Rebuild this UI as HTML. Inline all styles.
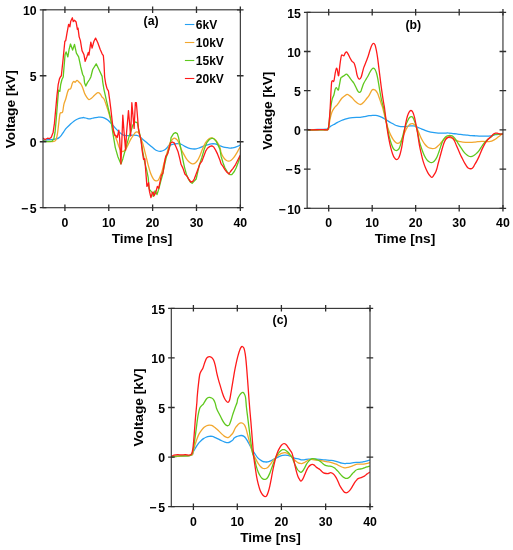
<!DOCTYPE html>
<html><head><meta charset="utf-8"><title>Voltage waveforms</title>
<style>html,body{margin:0;padding:0;background:#fff}body{width:513px;height:550px;overflow:hidden}</style></head>
<body>
<svg width="513" height="550" viewBox="0 0 513 550" style="display:block">
<rect width="513" height="550" fill="#fff"/>
<clipPath id="ca"><rect x="43.0" y="9.8" width="197.35" height="197.89999999999998"/></clipPath>
<g clip-path="url(#ca)" fill="none" stroke-width="1.3" stroke-linejoin="round" stroke-linecap="round">
<path d="M43.14,140.36 C43.87,140.26 45.96,139.90 47.53,139.74 C49.10,139.57 51.08,139.51 52.55,139.36 C54.01,139.21 55.27,139.11 56.31,138.86 C57.36,138.61 57.98,138.44 58.82,137.85 C59.66,137.27 60.49,136.39 61.33,135.34 C62.17,134.30 63.00,132.77 63.84,131.58 C64.68,130.39 65.30,129.38 66.35,128.19 C67.39,127.00 68.86,125.60 70.11,124.43 C71.37,123.26 72.62,122.06 73.88,121.17 C75.13,120.27 76.39,119.58 77.64,119.03 C78.90,118.49 80.36,118.15 81.41,117.90 C82.45,117.65 82.97,117.44 83.91,117.53 C84.86,117.61 86.01,118.20 87.05,118.41 C88.10,118.61 89.04,118.89 90.19,118.78 C91.34,118.68 92.70,118.03 93.95,117.78 C95.21,117.53 96.67,117.38 97.72,117.28 C98.76,117.17 99.18,117.05 100.23,117.15 C101.27,117.26 102.73,117.43 103.99,117.90 C105.25,118.38 106.51,119.02 107.76,120.00 C109.02,120.98 110.27,122.40 111.53,123.76 C112.78,125.12 114.04,126.80 115.29,128.16 C116.55,129.51 117.80,130.81 119.06,131.92 C120.31,133.03 121.67,134.18 122.82,134.81 C123.97,135.43 124.91,135.56 125.96,135.68 C127.00,135.81 127.94,135.66 129.09,135.56 C130.24,135.45 131.60,135.10 132.86,135.06 C134.11,135.01 135.58,135.10 136.62,135.31 C137.67,135.52 138.09,135.62 139.13,136.31 C140.18,137.00 141.64,138.40 142.90,139.45 C144.15,140.49 145.41,141.54 146.66,142.58 C147.91,143.63 149.17,144.68 150.42,145.72 C151.68,146.77 153.04,148.02 154.19,148.86 C155.34,149.69 156.23,150.34 157.32,150.74 C158.42,151.14 159.65,151.35 160.74,151.27 C161.83,151.20 162.94,150.73 163.88,150.27 C164.82,149.81 165.55,149.29 166.39,148.51 C167.22,147.74 168.12,146.23 168.90,145.63 C169.67,145.02 170.07,145.17 171.06,144.88 C172.04,144.59 173.57,144.09 174.82,143.88 C176.08,143.67 177.43,143.52 178.58,143.63 C179.73,143.73 180.68,144.04 181.72,144.50 C182.77,144.96 183.71,145.80 184.86,146.39 C186.01,146.97 187.37,147.60 188.62,148.02 C189.88,148.44 191.13,148.75 192.39,148.90 C193.64,149.04 194.90,149.10 196.15,148.90 C197.41,148.69 198.66,148.10 199.91,147.64 C201.17,147.18 202.42,146.60 203.68,146.14 C204.93,145.68 206.19,145.26 207.44,144.88 C208.70,144.50 209.95,144.04 211.21,143.88 C212.46,143.71 213.82,143.71 214.97,143.88 C216.12,144.04 217.27,144.57 218.11,144.88 C218.94,145.19 219.07,145.40 219.99,145.76 C220.91,146.11 222.41,146.70 223.64,147.01 C224.88,147.33 226.15,147.47 227.41,147.64 C228.66,147.81 229.91,148.08 231.17,148.02 C232.42,147.95 233.78,147.58 234.93,147.26 C236.08,146.95 237.19,146.49 238.07,146.14 C238.95,145.78 239.85,145.30 240.20,145.13" stroke="#26a0f2"/>
<path d="M43.14,141.24 C44.71,141.30 50.46,141.76 52.55,141.62 C54.64,141.47 54.89,141.51 55.68,140.36 C56.48,139.21 56.83,137.33 57.31,134.72 C57.80,132.10 58.15,128.02 58.57,124.68 C58.99,121.33 59.47,116.63 59.82,114.64 C60.18,112.65 60.24,113.18 60.70,112.76 C61.16,112.34 62.06,113.49 62.58,112.13 C63.11,110.77 63.32,106.80 63.84,104.60 C64.36,102.41 65.09,101.05 65.72,98.96 C66.35,96.87 67.08,93.67 67.60,92.06 C68.13,90.45 68.34,89.88 68.86,89.30 C69.38,88.71 70.15,89.55 70.74,88.54 C71.33,87.54 71.85,84.47 72.37,83.27 C72.89,82.08 73.42,81.56 73.88,81.39 C74.34,81.22 74.61,82.44 75.13,82.27 C75.65,82.10 76.39,80.43 77.01,80.39 C77.64,80.35 78.27,81.43 78.90,82.02 C79.52,82.60 80.15,82.96 80.78,83.90 C81.41,84.84 82.03,86.10 82.66,87.66 C83.29,89.23 83.87,91.74 84.54,93.31 C85.21,94.88 85.94,96.03 86.68,97.08 C87.41,98.12 88.14,99.38 88.93,99.58 C89.73,99.79 90.61,98.96 91.44,98.33 C92.28,97.70 93.22,96.55 93.95,95.82 C94.68,95.09 95.17,94.46 95.83,93.94 C96.50,93.42 97.24,92.68 97.97,92.68 C98.70,92.68 99.54,93.21 100.23,93.94 C100.92,94.67 101.48,96.24 102.11,97.08 C102.74,97.91 103.36,97.81 103.99,98.96 C104.62,100.11 105.25,102.20 105.88,103.98 C106.51,105.75 107.14,107.64 107.76,109.62 C108.39,111.61 109.02,113.70 109.65,115.90 C110.27,118.09 110.90,120.54 111.53,122.80 C112.16,125.05 112.78,127.16 113.41,129.41 C114.04,131.66 114.66,134.32 115.29,136.31 C115.92,138.30 116.55,139.55 117.17,141.33 C117.80,143.11 118.43,145.41 119.06,146.98 C119.68,148.54 120.21,150.01 120.94,150.74 C121.67,151.47 122.61,151.68 123.45,151.37 C124.28,151.05 125.12,150.11 125.96,148.86 C126.79,147.60 127.63,145.51 128.47,143.84 C129.30,142.17 130.14,140.28 130.98,138.82 C131.81,137.36 132.75,136.10 133.49,135.06 C134.22,134.01 134.74,133.07 135.37,132.55 C135.99,132.02 136.62,131.71 137.25,131.92 C137.88,132.13 138.50,132.65 139.13,133.80 C139.76,134.95 140.39,137.15 141.01,138.82 C141.64,140.49 142.27,141.75 142.90,143.84 C143.52,145.93 144.15,148.86 144.78,151.37 C145.41,153.88 146.03,156.39 146.66,158.90 C147.29,161.41 147.91,164.12 148.54,166.42 C149.17,168.72 149.80,170.92 150.42,172.70 C151.05,174.48 151.68,175.88 152.31,177.09 C152.93,178.30 153.56,179.35 154.19,179.97 C154.82,180.60 155.40,180.83 156.07,180.85 C156.74,180.88 157.56,180.88 158.23,180.13 C158.90,179.38 159.49,177.83 160.11,176.37 C160.74,174.90 161.37,173.44 161.99,171.35 C162.62,169.26 163.25,166.23 163.88,163.82 C164.50,161.42 165.13,159.12 165.76,156.92 C166.39,154.72 166.97,152.92 167.64,150.65 C168.31,148.37 169.02,145.11 169.80,143.25 C170.58,141.39 171.47,140.32 172.31,139.49 C173.15,138.65 173.98,138.13 174.82,138.23 C175.66,138.34 176.60,139.17 177.33,140.11 C178.06,141.05 178.58,142.41 179.21,143.88 C179.84,145.34 180.36,147.22 181.09,148.90 C181.83,150.57 182.77,152.35 183.60,153.91 C184.44,155.48 185.28,157.05 186.11,158.31 C186.95,159.56 187.79,160.61 188.62,161.44 C189.46,162.28 190.40,162.91 191.13,163.32 C191.86,163.74 192.28,164.06 193.01,163.95 C193.75,163.85 194.69,163.43 195.52,162.70 C196.36,161.97 197.30,160.71 198.03,159.56 C198.76,158.41 199.29,157.26 199.91,155.80 C200.54,154.33 201.17,152.35 201.80,150.78 C202.42,149.21 203.05,147.75 203.68,146.39 C204.31,145.03 204.93,143.67 205.56,142.62 C206.19,141.58 206.71,140.84 207.44,140.11 C208.17,139.38 209.22,138.61 209.95,138.23 C210.68,137.85 211.00,137.65 211.83,137.85 C212.67,138.06 214.03,138.69 214.97,139.49 C215.91,140.28 216.64,141.26 217.48,142.62 C218.32,143.98 219.38,145.97 219.99,147.64 C220.60,149.31 220.52,150.99 221.13,152.66 C221.74,154.33 222.80,156.42 223.64,157.68 C224.48,158.93 225.31,159.60 226.15,160.19 C226.99,160.77 227.82,161.19 228.66,161.19 C229.50,161.19 230.33,160.77 231.17,160.19 C232.01,159.60 232.84,158.72 233.68,157.68 C234.52,156.63 235.35,155.27 236.19,153.91 C237.02,152.56 238.03,150.67 238.70,149.52 C239.37,148.37 239.95,147.43 240.20,147.01" stroke="#f2a72e"/>
<path d="M43.14,140.99 L47.53,141.62 L51.92,141.24 L53.80,139.11 L55.06,132.21 L56.31,118.41 L57.57,102.09 L58.57,90.17 L59.82,91.43 L60.70,84.53 L61.96,79.51 L63.21,77.00 L65.09,54.42 L66.10,51.91 L67.85,56.93 L69.11,49.41 L70.49,44.01 L72.62,50.03 L74.50,44.39 L76.39,53.17 L78.64,56.93 L80.78,66.97 L82.66,74.50 L83.91,76.76 L84.54,82.65 L85.80,86.03 L87.43,82.65 L89.56,79.51 L90.82,77.00 L92.70,69.48 L96.21,63.83 L98.97,69.48 L102.11,76.38 L102.74,82.02 L104.00,89.55 L106.51,100.84 L109.02,111.50 L110.90,120.04 L112.78,132.55 L115.29,147.60 L117.80,156.39 L120.94,163.91 L122.82,158.90 L125.96,147.60 L129.09,136.31 L130.98,131.29 L132.86,125.02 L134.74,121.88 L137.25,122.51 L139.13,131.29 L141.01,140.08 L142.90,152.62 L144.78,162.66 L146.66,170.19 L148.19,177.62 L149.07,188.91 L150.70,190.80 L152.33,192.68 L153.21,196.44 L155.09,190.80 L156.98,194.56 L158.86,188.91 L160.74,181.39 L162.62,174.49 L164.50,165.08 L166.39,156.92 L168.27,151.27 L170.15,145.00 L171.06,137.60 L173.57,133.59 L175.45,132.58 L177.33,133.59 L178.58,137.60 L179.84,143.88 L181.44,151.27 L182.70,158.80 L184.58,167.58 L186.46,174.49 L188.34,178.88 L190.23,182.01 L192.11,183.27 L193.99,181.39 L196.15,179.01 L199.29,165.21 L201.80,157.68 L204.31,148.90 L206.82,142.62 L209.32,139.49 L211.83,138.23 L213.72,138.61 L216.23,141.37 L218.11,145.13 L219.99,149.52 L221.13,156.42 L223.01,162.70 L224.90,167.72 L227.41,172.11 L229.91,174.62 L231.80,174.62 L234.31,171.48 L236.19,167.72 L238.07,162.70 L240.20,156.42" stroke="#5fc81e"/>
<path d="M43.14,138.23 L45.02,139.48 L47.53,138.23 L49.41,138.73 L51.29,137.23 L53.17,132.21 L54.43,123.42 L55.68,109.62 L56.94,95.82 L58.19,84.53 L59.45,78.88 L60.33,77.00 L61.33,75.75 L63.21,58.19 L64.84,41.25 L65.72,40.62 L66.98,33.09 L68.61,24.31 L69.86,26.82 L70.74,21.17 L72.37,17.79 L73.25,21.55 L74.50,20.30 L76.14,22.05 L77.39,29.33 L78.02,28.08 L79.15,36.86 L80.40,40.62 L82.03,50.66 L83.91,54.42 L85.17,61.32 L87.05,56.31 L88.31,52.54 L88.93,55.05 L90.82,42.13 L92.07,48.15 L93.95,41.25 L95.58,38.11 L97.72,42.50 L100.23,49.41 L102.11,53.80 L103.36,55.68 L103.99,63.21 L104.63,77.00 L105.88,84.53 L107.14,88.92 L108.39,90.80 L109.65,99.58 L110.90,109.62 L112.16,120.91 L113.41,130.95 L114.66,135.06 L115.92,135.68 L117.17,137.57 L118.81,130.04 L119.68,138.82 L120.94,163.91 L121.94,138.82 L122.82,115.23 L124.08,132.55 L125.58,150.11 L126.58,132.55 L128.47,110.59 L129.72,125.02 L130.60,135.93 L131.85,102.72 L133.11,117.15 L134.11,128.44 L135.37,102.72 L136.37,102.72 L137.63,118.41 L138.50,129.70 L139.76,135.06 L141.01,140.08 L142.27,151.37 L143.55,159.43 L144.81,158.80 L145.68,170.09 L146.94,186.41 L148.57,182.64 L149.45,191.42 L150.95,197.70 L152.33,192.68 L153.21,192.05 L154.09,195.82 L155.72,192.68 L157.35,186.41 L158.61,188.29 L160.11,181.39 L161.37,175.11 L162.87,173.23 L164.50,162.57 L165.76,156.29 L167.64,153.78 L169.52,146.88 L170.43,143.25 L172.31,141.99 L174.19,142.87 L176.08,147.01 L177.96,151.41 L179.84,158.93 L181.09,164.58 L182.98,168.34 L184.86,173.99 L187.09,176.37 L188.97,179.50 L190.85,182.01 L192.74,181.39 L194.27,179.01 L196.15,173.99 L198.03,168.97 L199.91,163.95 L201.80,161.44 L203.68,156.42 L205.56,151.41 L207.44,148.27 L209.95,146.39 L211.83,145.76 L213.72,147.01 L215.60,150.15 L217.48,153.91 L219.99,160.19 L221.13,163.95 L223.01,166.46 L224.90,169.60 L226.78,172.11 L228.91,173.99 L230.54,171.48 L233.05,168.34 L235.56,164.58 L238.07,159.56 L240.20,155.17" stroke="#ff1a1a"/>
</g>
<rect x="43.0" y="9.8" width="197.35" height="197.89999999999998" fill="none" stroke="#363636" stroke-width="1.15"/>
<path d="M64.92,211.0 V204.5 M64.92,6.500000000000001 V13.0" stroke="#2e2e2e" stroke-width="1.3" fill="none"/>
<path d="M108.78,211.0 V204.5 M108.78,6.500000000000001 V13.0" stroke="#2e2e2e" stroke-width="1.3" fill="none"/>
<path d="M152.63,211.0 V204.5 M152.63,6.500000000000001 V13.0" stroke="#2e2e2e" stroke-width="1.3" fill="none"/>
<path d="M196.49,211.0 V204.5 M196.49,6.500000000000001 V13.0" stroke="#2e2e2e" stroke-width="1.3" fill="none"/>
<path d="M240.34,211.0 V204.5 M240.34,6.500000000000001 V13.0" stroke="#2e2e2e" stroke-width="1.3" fill="none"/>
<path d="M39.8,9.80 H46.4 M243.54999999999998,9.80 H236.95" stroke="#2e2e2e" stroke-width="1.3" fill="none"/>
<path d="M39.8,75.76 H46.4 M243.54999999999998,75.76 H236.95" stroke="#2e2e2e" stroke-width="1.3" fill="none"/>
<path d="M39.8,141.73 H46.4 M243.54999999999998,141.73 H236.95" stroke="#2e2e2e" stroke-width="1.3" fill="none"/>
<path d="M39.8,207.69 H46.4 M243.54999999999998,207.69 H236.95" stroke="#2e2e2e" stroke-width="1.3" fill="none"/>
<text x="64.92" y="226.7" font-size="12.3" text-anchor="middle" font-family="'Liberation Sans', sans-serif" font-weight="bold" fill="#000" >0</text>
<text x="108.77600000000001" y="226.7" font-size="12.3" text-anchor="middle" font-family="'Liberation Sans', sans-serif" font-weight="bold" fill="#000" >10</text>
<text x="152.632" y="226.7" font-size="12.3" text-anchor="middle" font-family="'Liberation Sans', sans-serif" font-weight="bold" fill="#000" >20</text>
<text x="196.488" y="226.7" font-size="12.3" text-anchor="middle" font-family="'Liberation Sans', sans-serif" font-weight="bold" fill="#000" >30</text>
<text x="240.344" y="226.7" font-size="12.3" text-anchor="middle" font-family="'Liberation Sans', sans-serif" font-weight="bold" fill="#000" >40</text>
<text x="36.7" y="15.099999999999984" font-size="12.3" text-anchor="end" font-family="'Liberation Sans', sans-serif" font-weight="bold" fill="#000" >10</text>
<text x="36.7" y="81.06499999999998" font-size="12.3" text-anchor="end" font-family="'Liberation Sans', sans-serif" font-weight="bold" fill="#000" >5</text>
<text x="36.7" y="147.03" font-size="12.3" text-anchor="end" font-family="'Liberation Sans', sans-serif" font-weight="bold" fill="#000" >0</text>
<text x="36.7" y="212.995" font-size="12.3" text-anchor="end" font-family="'Liberation Sans', sans-serif" font-weight="bold" fill="#000" >−<tspan dx="1.6">5</tspan></text>
<text x="142" y="242.9" font-size="13.7" text-anchor="middle" font-family="'Liberation Sans', sans-serif" font-weight="bold" fill="#000" >Time [ns]</text>
<text x="15.1" y="109.3" font-size="13.7" text-anchor="middle" font-family="'Liberation Sans', sans-serif" font-weight="bold" fill="#000" transform="rotate(-90 15.1 109.3)">Voltage [kV]</text>
<text x="151.1" y="25.3" font-size="12.3" text-anchor="middle" font-family="'Liberation Sans', sans-serif" font-weight="bold" fill="#000" >(a)</text>
<path d="M184.9,24.5 H194.3" stroke="#26a0f2" stroke-width="1.1"/>
<text x="195.8" y="29.3" font-size="12" text-anchor="start" font-family="'Liberation Sans', sans-serif" font-weight="bold" fill="#000" >6kV</text>
<path d="M184.9,42.5 H194.3" stroke="#f2a72e" stroke-width="1.1"/>
<text x="195.8" y="47.3" font-size="12" text-anchor="start" font-family="'Liberation Sans', sans-serif" font-weight="bold" fill="#000" >10kV</text>
<path d="M184.9,60.5 H194.3" stroke="#5fc81e" stroke-width="1.1"/>
<text x="195.8" y="65.3" font-size="12" text-anchor="start" font-family="'Liberation Sans', sans-serif" font-weight="bold" fill="#000" >15kV</text>
<path d="M184.9,78.5 H194.3" stroke="#ff1a1a" stroke-width="1.1"/>
<text x="195.8" y="83.3" font-size="12" text-anchor="start" font-family="'Liberation Sans', sans-serif" font-weight="bold" fill="#000" >20kV</text>
<clipPath id="cb"><rect x="307.15" y="12.3" width="195.8" height="196.0"/></clipPath>
<g clip-path="url(#cb)" fill="none" stroke-width="1.3" stroke-linejoin="round" stroke-linecap="round">
<path d="M307.26,129.52 C308.97,129.52 314.37,129.59 317.55,129.52 C320.73,129.46 324.55,129.36 326.33,129.15 C328.11,128.94 327.58,128.69 328.21,128.27 C328.84,127.85 329.15,127.26 330.09,126.64 C331.04,126.01 332.60,125.22 333.86,124.50 C335.11,123.79 336.37,123.04 337.62,122.37 C338.88,121.70 340.13,121.03 341.39,120.49 C342.64,119.95 343.90,119.51 345.15,119.11 C346.41,118.71 347.66,118.36 348.91,118.11 C350.17,117.85 351.42,117.73 352.68,117.60 C353.93,117.48 355.19,117.39 356.44,117.35 C357.70,117.31 358.95,117.46 360.21,117.35 C361.46,117.25 362.51,117.00 363.97,116.73 C365.43,116.45 367.56,115.96 368.99,115.72 C370.42,115.49 371.43,115.36 372.55,115.31 C373.66,115.26 374.64,115.31 375.68,115.43 C376.73,115.56 377.77,115.75 378.82,116.06 C379.87,116.37 380.91,116.81 381.96,117.31 C383.00,117.82 384.05,118.44 385.09,119.07 C386.14,119.70 387.19,120.43 388.23,121.08 C389.28,121.73 390.32,122.35 391.37,122.96 C392.41,123.57 393.46,124.22 394.50,124.72 C395.55,125.22 396.60,125.66 397.64,125.97 C398.69,126.29 399.73,126.50 400.78,126.60 C401.82,126.70 402.87,126.64 403.91,126.60 C404.96,126.56 406.01,126.45 407.05,126.35 C408.10,126.24 409.14,126.06 410.19,125.97 C411.23,125.89 412.28,125.78 413.32,125.85 C414.37,125.91 415.76,126.11 416.46,126.35 C417.16,126.59 416.72,126.87 417.53,127.28 C418.33,127.68 420.04,128.28 421.29,128.78 C422.55,129.28 423.80,129.83 425.06,130.29 C426.31,130.75 427.57,131.19 428.82,131.54 C430.08,131.90 431.33,132.19 432.58,132.42 C433.84,132.65 435.09,132.80 436.35,132.92 C437.60,133.05 438.86,133.13 440.11,133.17 C441.37,133.22 442.62,133.22 443.88,133.17 C445.13,133.13 446.79,132.92 447.64,132.92 C448.49,132.92 448.15,133.07 449.00,133.17 C449.85,133.28 451.51,133.43 452.76,133.55 C454.02,133.68 455.27,133.80 456.53,133.93 C457.78,134.05 459.04,134.16 460.29,134.30 C461.55,134.45 462.80,134.66 464.06,134.81 C465.31,134.95 466.57,135.06 467.82,135.18 C469.08,135.31 470.33,135.45 471.58,135.56 C472.84,135.66 474.09,135.73 475.35,135.81 C476.60,135.89 477.86,136.00 479.11,136.06 C480.37,136.12 481.62,136.16 482.88,136.19 C484.13,136.21 485.39,136.23 486.64,136.19 C487.90,136.14 489.36,136.08 490.41,135.93 C491.45,135.79 492.08,135.52 492.91,135.31 C493.75,135.10 494.38,134.85 495.42,134.68 C496.47,134.51 497.98,134.41 499.19,134.30 C500.40,134.20 502.12,134.09 502.70,134.05" stroke="#26a0f2"/>
<path d="M307.26,129.77 C308.97,129.77 314.12,129.82 317.55,129.77 C320.98,129.73 325.95,130.09 327.84,129.52 C329.72,128.96 328.46,128.16 328.84,126.39 C329.22,124.61 329.57,121.26 330.09,118.86 C330.62,116.45 331.24,113.84 331.98,111.96 C332.71,110.08 333.65,108.72 334.49,107.57 C335.32,106.42 336.26,105.89 336.99,105.06 C337.73,104.22 338.15,103.59 338.88,102.55 C339.61,101.50 340.55,99.79 341.39,98.78 C342.22,97.78 342.95,97.26 343.90,96.52 C344.84,95.79 346.09,94.54 347.03,94.39 C347.97,94.25 348.71,95.08 349.54,95.65 C350.38,96.21 351.11,96.84 352.05,97.78 C352.99,98.72 354.14,100.29 355.19,101.29 C356.23,102.30 357.38,103.28 358.32,103.80 C359.27,104.32 360.00,104.64 360.83,104.43 C361.67,104.22 362.40,103.49 363.34,102.55 C364.28,101.61 365.54,99.93 366.48,98.78 C367.42,97.63 368.08,97.08 368.99,95.65 C369.90,94.21 371.12,91.20 371.92,90.19 C372.72,89.17 373.17,89.52 373.80,89.56 C374.43,89.60 375.06,89.81 375.68,90.44 C376.31,91.07 376.94,92.01 377.57,93.32 C378.19,94.64 378.82,96.57 379.45,98.34 C380.08,100.12 380.81,102.46 381.33,103.99 C381.85,105.52 382.06,105.68 382.58,107.53 C383.11,109.37 383.84,112.55 384.47,115.06 C385.09,117.57 385.72,120.28 386.35,122.58 C386.98,124.88 387.50,126.77 388.23,128.86 C388.96,130.95 389.90,133.35 390.74,135.13 C391.58,136.91 392.41,138.31 393.25,139.52 C394.09,140.74 395.03,141.78 395.76,142.41 C396.49,143.04 397.01,143.25 397.64,143.29 C398.27,143.33 398.90,143.18 399.52,142.66 C400.15,142.14 400.78,141.30 401.41,140.15 C402.03,139.00 402.66,137.22 403.29,135.76 C403.91,134.30 404.54,132.73 405.17,131.37 C405.80,130.01 406.42,128.65 407.05,127.60 C407.68,126.56 408.31,125.72 408.93,125.09 C409.56,124.47 410.23,124.09 410.82,123.84 C411.40,123.59 411.88,123.48 412.45,123.59 C413.01,123.69 413.64,124.01 414.20,124.47 C414.77,124.93 415.25,125.41 415.83,126.35 C416.42,127.29 417.02,128.56 417.72,130.11 C418.42,131.67 419.23,133.92 420.04,135.68 C420.84,137.45 421.71,139.24 422.55,140.70 C423.38,142.17 424.22,143.42 425.06,144.47 C425.89,145.51 426.73,146.35 427.57,146.98 C428.40,147.60 429.24,147.96 430.08,148.23 C430.91,148.50 431.75,148.61 432.58,148.61 C433.42,148.61 434.26,148.61 435.09,148.23 C435.93,147.85 436.77,147.08 437.60,146.35 C438.44,145.62 439.28,144.78 440.11,143.84 C440.95,142.90 441.79,141.64 442.62,140.70 C443.46,139.76 444.30,138.76 445.13,138.19 C445.97,137.63 446.80,137.42 447.64,137.31 C448.48,137.21 449.21,137.31 450.15,137.57 C451.09,137.82 452.24,138.30 453.29,138.82 C454.33,139.34 455.36,140.24 456.42,140.70 C457.49,141.16 458.60,141.33 459.66,141.58 C460.73,141.83 461.65,142.08 462.80,142.21 C463.95,142.33 465.31,142.31 466.57,142.33 C467.82,142.35 469.08,142.38 470.33,142.33 C471.58,142.29 472.84,142.19 474.09,142.08 C475.35,141.98 476.60,141.83 477.86,141.71 C479.11,141.58 480.37,141.35 481.62,141.33 C482.88,141.31 484.13,141.54 485.39,141.58 C486.64,141.62 488.10,141.66 489.15,141.58 C490.20,141.50 490.82,141.37 491.66,141.08 C492.50,140.79 493.33,140.31 494.17,139.82 C495.01,139.34 495.84,138.78 496.68,138.19 C497.52,137.61 498.46,136.88 499.19,136.31 C499.92,135.75 500.48,135.27 501.07,134.81 C501.66,134.35 502.43,133.76 502.70,133.55" stroke="#f2a72e"/>
<path d="M307.26,129.90 C308.14,129.92 310.40,130.05 312.53,130.03 C314.66,130.00 317.97,129.80 320.06,129.77 C322.15,129.75 323.78,129.94 325.08,129.90 C326.37,129.86 327.21,130.32 327.84,129.52 C328.46,128.73 328.46,127.95 328.84,125.13 C329.22,122.31 329.57,116.77 330.09,112.58 C330.62,108.40 331.35,102.97 331.98,100.04 C332.60,97.11 333.34,96.76 333.86,95.02 C334.38,93.27 334.69,90.78 335.11,89.56 C335.53,88.34 335.84,87.57 336.37,87.68 C336.89,87.78 337.79,90.40 338.25,90.19 C338.71,89.98 338.71,88.41 339.13,86.42 C339.55,84.44 340.28,79.84 340.76,78.27 C341.24,76.70 341.49,77.43 342.01,77.01 C342.54,76.60 343.16,76.24 343.90,75.76 C344.63,75.28 345.67,74.13 346.41,74.13 C347.14,74.13 347.66,75.07 348.29,75.76 C348.91,76.45 349.54,77.43 350.17,78.27 C350.80,79.10 351.42,79.94 352.05,80.78 C352.68,81.61 353.31,82.24 353.93,83.29 C354.56,84.33 355.19,85.80 355.82,87.05 C356.44,88.31 357.13,89.92 357.70,90.82 C358.26,91.71 358.68,92.34 359.20,92.45 C359.73,92.55 360.39,92.13 360.83,91.44 C361.28,90.75 361.39,89.67 361.88,88.31 C362.37,86.95 363.03,84.86 363.76,83.29 C364.50,81.72 365.54,80.15 366.27,78.90 C367.01,77.64 367.53,76.91 368.16,75.76 C368.78,74.61 369.41,73.10 370.04,71.99 C370.66,70.89 371.33,69.74 371.92,69.11 C372.51,68.48 373.03,68.17 373.55,68.23 C374.07,68.29 374.55,68.65 375.06,69.49 C375.56,70.32 376.10,71.68 376.56,73.25 C377.02,74.82 377.40,76.70 377.82,78.90 C378.24,81.09 378.65,83.91 379.07,86.42 C379.49,88.93 379.91,91.65 380.33,93.95 C380.74,96.25 381.10,98.13 381.58,100.23 C382.06,102.32 382.84,105.07 383.21,106.50 C383.59,107.93 383.42,106.73 383.84,108.78 C384.26,110.84 385.09,115.47 385.72,118.82 C386.35,122.17 386.98,125.72 387.60,128.86 C388.23,131.99 388.86,135.13 389.49,137.64 C390.11,140.15 390.74,142.14 391.37,143.91 C391.99,145.69 392.62,147.26 393.25,148.31 C393.88,149.35 394.50,149.83 395.13,150.19 C395.76,150.54 396.39,150.65 397.01,150.44 C397.64,150.23 398.33,149.81 398.90,148.93 C399.46,148.06 399.88,146.84 400.40,145.17 C400.92,143.50 401.45,141.20 402.03,138.90 C402.62,136.60 403.29,133.67 403.91,131.37 C404.54,129.07 405.17,126.87 405.80,125.09 C406.42,123.32 407.05,121.96 407.68,120.70 C408.31,119.45 408.93,118.24 409.56,117.57 C410.19,116.90 410.88,116.69 411.44,116.69 C412.01,116.69 412.43,116.79 412.95,117.57 C413.47,118.34 414.04,119.87 414.58,121.33 C415.12,122.79 415.65,124.26 416.21,126.35 C416.78,128.44 417.43,131.38 417.97,133.88 C418.50,136.37 418.75,138.73 419.41,141.33 C420.07,143.93 421.08,147.08 421.92,149.49 C422.76,151.89 423.59,154.02 424.43,155.76 C425.27,157.49 426.10,158.85 426.94,159.90 C427.77,160.95 428.72,161.57 429.45,162.03 C430.18,162.49 430.70,162.66 431.33,162.66 C431.96,162.66 432.58,162.45 433.21,162.03 C433.84,161.61 434.47,160.99 435.09,160.15 C435.72,159.31 436.35,158.37 436.98,157.01 C437.60,155.65 438.23,153.77 438.86,151.99 C439.49,150.22 440.11,148.13 440.74,146.35 C441.37,144.57 441.99,142.69 442.62,141.33 C443.25,139.97 443.88,139.03 444.50,138.19 C445.13,137.36 445.65,136.75 446.39,136.31 C447.12,135.87 448.15,135.66 448.90,135.56 C449.65,135.45 450.24,135.56 450.88,135.68 C451.53,135.81 452.14,135.89 452.76,136.31 C453.39,136.73 454.02,137.46 454.65,138.19 C455.27,138.93 455.90,139.76 456.53,140.70 C457.16,141.64 457.68,142.69 458.41,143.84 C459.14,144.99 460.08,146.35 460.92,147.60 C461.76,148.86 462.59,150.28 463.43,151.37 C464.27,152.46 465.10,153.35 465.94,154.13 C466.77,154.90 467.61,155.59 468.45,156.01 C469.28,156.43 470.12,156.68 470.96,156.64 C471.79,156.60 472.63,156.22 473.47,155.76 C474.30,155.30 475.14,154.61 475.98,153.88 C476.81,153.15 477.65,152.41 478.49,151.37 C479.32,150.32 480.16,148.86 480.99,147.60 C481.83,146.35 482.67,144.93 483.50,143.84 C484.34,142.75 485.18,141.92 486.01,141.08 C486.85,140.24 487.69,139.51 488.52,138.82 C489.36,138.13 490.30,137.52 491.03,136.94 C491.76,136.35 492.29,135.73 492.91,135.31 C493.54,134.89 494.06,134.62 494.80,134.43 C495.53,134.24 496.47,134.22 497.31,134.18 C498.14,134.14 498.92,134.20 499.82,134.18 C500.71,134.16 502.22,134.07 502.70,134.05" stroke="#5fc81e"/>
<path d="M307.26,129.52 C308.14,129.59 310.40,129.88 312.53,129.90 C314.66,129.92 317.97,129.67 320.06,129.65 C322.15,129.63 323.78,129.80 325.08,129.77 C326.37,129.75 327.21,130.30 327.84,129.52 C328.46,128.75 328.53,127.54 328.84,125.13 C329.15,122.73 329.45,118.86 329.72,115.09 C329.99,111.33 330.30,105.65 330.47,102.55 C330.64,99.44 330.53,99.78 330.72,96.46 C330.91,93.15 331.29,85.27 331.60,82.66 C331.91,80.05 332.23,81.03 332.60,80.78 C332.98,80.53 333.44,82.30 333.86,81.15 C334.28,80.00 334.69,76.03 335.11,73.88 C335.53,71.72 335.99,68.86 336.37,68.23 C336.74,67.60 336.99,68.86 337.37,70.11 C337.75,71.37 338.21,76.60 338.63,75.76 C339.04,74.92 339.42,68.44 339.88,65.09 C340.34,61.75 340.93,57.31 341.39,55.68 C341.85,54.05 342.22,55.31 342.64,55.31 C343.06,55.31 343.48,56.04 343.90,55.68 C344.31,55.33 344.69,53.80 345.15,53.17 C345.61,52.55 346.13,51.71 346.66,51.92 C347.18,52.13 347.70,53.38 348.29,54.43 C348.87,55.47 349.54,57.04 350.17,58.19 C350.80,59.34 351.38,60.49 352.05,61.33 C352.72,62.17 353.56,61.96 354.18,63.21 C354.81,64.47 355.33,66.87 355.82,68.86 C356.30,70.84 356.65,73.56 357.07,75.13 C357.49,76.70 357.91,77.60 358.32,78.27 C358.74,78.94 359.10,79.36 359.58,79.15 C360.06,78.94 360.69,78.31 361.21,77.01 C361.73,75.72 362.29,72.94 362.72,71.37 C363.14,69.80 363.17,69.28 363.76,67.60 C364.36,65.93 365.54,63.21 366.27,61.33 C367.01,59.45 367.53,58.19 368.16,56.31 C368.78,54.43 369.41,51.92 370.04,50.04 C370.66,48.16 371.33,46.13 371.92,45.02 C372.51,43.91 373.03,43.39 373.55,43.39 C374.07,43.39 374.60,43.91 375.06,45.02 C375.52,46.13 375.89,47.95 376.31,50.04 C376.73,52.13 377.15,54.64 377.57,57.57 C377.98,60.49 378.40,64.26 378.82,67.60 C379.24,70.95 379.66,74.30 380.08,77.64 C380.49,80.99 380.91,84.54 381.33,87.68 C381.75,90.82 382.17,93.74 382.58,96.46 C383.00,99.18 383.53,102.15 383.84,103.99 C384.15,105.83 384.15,105.27 384.47,107.53 C384.78,109.79 385.30,114.22 385.72,117.57 C386.14,120.91 386.45,124.05 386.98,127.60 C387.50,131.16 388.23,135.55 388.86,138.90 C389.49,142.24 390.11,145.17 390.74,147.68 C391.37,150.19 391.99,152.24 392.62,153.95 C393.25,155.67 393.84,157.03 394.50,157.97 C395.17,158.91 395.95,159.60 396.64,159.60 C397.33,159.60 398.06,158.91 398.64,157.97 C399.23,157.03 399.65,155.67 400.15,153.95 C400.65,152.24 401.13,150.40 401.66,147.68 C402.18,144.96 402.74,140.99 403.29,137.64 C403.83,134.30 404.35,130.74 404.92,127.60 C405.48,124.47 406.11,121.12 406.68,118.82 C407.24,116.52 407.76,115.10 408.31,113.80 C408.85,112.51 409.41,111.56 409.94,111.04 C410.46,110.52 410.94,110.41 411.44,110.66 C411.94,110.92 412.43,111.40 412.95,112.55 C413.47,113.70 414.10,115.68 414.58,117.57 C415.06,119.45 415.35,121.33 415.83,123.84 C416.32,126.35 416.87,129.08 417.47,132.62 C418.06,136.16 418.77,141.55 419.41,145.09 C420.05,148.64 420.66,151.16 421.29,153.88 C421.92,156.60 422.44,159.00 423.17,161.41 C423.91,163.81 424.85,166.32 425.68,168.31 C426.52,170.29 427.46,172.07 428.19,173.32 C428.93,174.58 429.45,175.14 430.08,175.83 C430.70,176.52 431.33,177.57 431.96,177.47 C432.58,177.36 433.21,176.11 433.84,175.21 C434.47,174.31 435.20,173.22 435.72,172.07 C436.24,170.92 436.56,169.77 436.98,168.31 C437.39,166.84 437.71,165.27 438.23,163.29 C438.75,161.30 439.49,158.69 440.11,156.39 C440.74,154.09 441.37,151.68 441.99,149.49 C442.62,147.29 443.25,144.88 443.88,143.21 C444.50,141.54 445.13,140.39 445.76,139.45 C446.39,138.51 446.95,137.98 447.64,137.57 C448.33,137.15 449.36,137.04 449.90,136.94 C450.44,136.83 450.40,136.73 450.88,136.94 C451.36,137.15 452.14,137.46 452.76,138.19 C453.39,138.93 454.02,140.08 454.65,141.33 C455.27,142.58 455.90,144.26 456.53,145.72 C457.16,147.19 457.78,148.65 458.41,150.11 C459.04,151.58 459.66,153.15 460.29,154.50 C460.92,155.86 461.55,157.01 462.17,158.27 C462.80,159.52 463.43,160.88 464.06,162.03 C464.68,163.18 465.31,164.23 465.94,165.17 C466.57,166.11 467.19,167.11 467.82,167.68 C468.45,168.24 469.08,168.39 469.70,168.56 C470.33,168.72 471.02,168.87 471.58,168.68 C472.15,168.49 472.57,168.12 473.09,167.43 C473.61,166.74 474.14,165.55 474.72,164.54 C475.31,163.54 475.98,162.56 476.60,161.41 C477.23,160.26 477.86,159.00 478.49,157.64 C479.11,156.28 479.74,154.71 480.37,153.25 C480.99,151.79 481.62,150.22 482.25,148.86 C482.88,147.50 483.50,146.24 484.13,145.09 C484.76,143.94 485.39,142.90 486.01,141.96 C486.64,141.02 487.27,140.14 487.90,139.45 C488.52,138.76 489.15,138.38 489.78,137.82 C490.41,137.25 491.03,136.69 491.66,136.06 C492.29,135.43 492.91,134.53 493.54,134.05 C494.17,133.57 494.80,133.32 495.42,133.17 C496.05,133.03 496.68,133.07 497.31,133.17 C497.93,133.28 498.56,133.63 499.19,133.80 C499.82,133.97 500.48,134.18 501.07,134.18 C501.66,134.18 502.43,133.86 502.70,133.80" stroke="#ff1a1a"/>
</g>
<rect x="307.15" y="12.3" width="195.8" height="196.0" fill="none" stroke="#363636" stroke-width="1.15"/>
<path d="M328.70,211.60000000000002 V205.10000000000002 M328.70,9.0 V15.5" stroke="#2e2e2e" stroke-width="1.3" fill="none"/>
<path d="M372.20,211.60000000000002 V205.10000000000002 M372.20,9.0 V15.5" stroke="#2e2e2e" stroke-width="1.3" fill="none"/>
<path d="M415.65,211.60000000000002 V205.10000000000002 M415.65,9.0 V15.5" stroke="#2e2e2e" stroke-width="1.3" fill="none"/>
<path d="M459.20,211.60000000000002 V205.10000000000002 M459.20,9.0 V15.5" stroke="#2e2e2e" stroke-width="1.3" fill="none"/>
<path d="M502.95,211.60000000000002 V205.10000000000002 M502.95,9.0 V15.5" stroke="#2e2e2e" stroke-width="1.3" fill="none"/>
<path d="M303.95,12.30 H310.54999999999995 M506.15,12.30 H499.55" stroke="#2e2e2e" stroke-width="1.3" fill="none"/>
<path d="M303.95,51.50 H310.54999999999995 M506.15,51.50 H499.55" stroke="#2e2e2e" stroke-width="1.3" fill="none"/>
<path d="M303.95,90.70 H310.54999999999995 M506.15,90.70 H499.55" stroke="#2e2e2e" stroke-width="1.3" fill="none"/>
<path d="M303.95,129.90 H310.54999999999995 M506.15,129.90 H499.55" stroke="#2e2e2e" stroke-width="1.3" fill="none"/>
<path d="M303.95,169.10 H310.54999999999995 M506.15,169.10 H499.55" stroke="#2e2e2e" stroke-width="1.3" fill="none"/>
<path d="M303.95,208.30 H310.54999999999995 M506.15,208.30 H499.55" stroke="#2e2e2e" stroke-width="1.3" fill="none"/>
<text x="328.7" y="227.3" font-size="12.3" text-anchor="middle" font-family="'Liberation Sans', sans-serif" font-weight="bold" fill="#000" >0</text>
<text x="372.2" y="227.3" font-size="12.3" text-anchor="middle" font-family="'Liberation Sans', sans-serif" font-weight="bold" fill="#000" >10</text>
<text x="415.65" y="227.3" font-size="12.3" text-anchor="middle" font-family="'Liberation Sans', sans-serif" font-weight="bold" fill="#000" >20</text>
<text x="459.2" y="227.3" font-size="12.3" text-anchor="middle" font-family="'Liberation Sans', sans-serif" font-weight="bold" fill="#000" >30</text>
<text x="502.95" y="227.3" font-size="12.3" text-anchor="middle" font-family="'Liberation Sans', sans-serif" font-weight="bold" fill="#000" >40</text>
<text x="300.84999999999997" y="17.600000000000012" font-size="12.3" text-anchor="end" font-family="'Liberation Sans', sans-serif" font-weight="bold" fill="#000" >15</text>
<text x="300.84999999999997" y="56.8" font-size="12.3" text-anchor="end" font-family="'Liberation Sans', sans-serif" font-weight="bold" fill="#000" >10</text>
<text x="300.84999999999997" y="96.0" font-size="12.3" text-anchor="end" font-family="'Liberation Sans', sans-serif" font-weight="bold" fill="#000" >5</text>
<text x="300.84999999999997" y="135.20000000000002" font-size="12.3" text-anchor="end" font-family="'Liberation Sans', sans-serif" font-weight="bold" fill="#000" >0</text>
<text x="300.84999999999997" y="174.40000000000003" font-size="12.3" text-anchor="end" font-family="'Liberation Sans', sans-serif" font-weight="bold" fill="#000" >−<tspan dx="1.6">5</tspan></text>
<text x="300.84999999999997" y="213.60000000000002" font-size="12.3" text-anchor="end" font-family="'Liberation Sans', sans-serif" font-weight="bold" fill="#000" >−<tspan dx="1.6">10</tspan></text>
<text x="405" y="242.9" font-size="13.7" text-anchor="middle" font-family="'Liberation Sans', sans-serif" font-weight="bold" fill="#000" >Time [ns]</text>
<text x="272" y="110.7" font-size="13.7" text-anchor="middle" font-family="'Liberation Sans', sans-serif" font-weight="bold" fill="#000" transform="rotate(-90 272 110.7)">Voltage [kV]</text>
<text x="413.3" y="29.4" font-size="12.3" text-anchor="middle" font-family="'Liberation Sans', sans-serif" font-weight="bold" fill="#000" >(b)</text>
<clipPath id="cc"><rect x="171.3" y="308.4" width="198.7" height="198.20000000000005"/></clipPath>
<g clip-path="url(#cc)" fill="none" stroke-width="1.3" stroke-linejoin="round" stroke-linecap="round">
<path d="M171.13,457.09 C172.87,456.92 178.14,456.40 181.55,456.09 C184.96,455.77 189.60,455.98 191.58,455.21 C193.57,454.43 192.73,452.80 193.47,451.44 C194.20,450.08 195.14,448.41 195.98,447.05 C196.81,445.69 197.65,444.33 198.49,443.29 C199.32,442.24 200.16,441.55 200.99,440.78 C201.83,440.00 202.67,439.23 203.50,438.64 C204.34,438.06 205.07,437.64 206.01,437.26 C206.95,436.89 208.10,436.53 209.15,436.39 C210.20,436.24 211.24,436.18 212.29,436.39 C213.33,436.60 214.38,437.18 215.42,437.64 C216.47,438.10 217.52,438.62 218.56,439.15 C219.61,439.67 220.65,440.30 221.70,440.78 C222.74,441.26 223.79,441.72 224.83,442.03 C225.88,442.35 227.03,442.72 227.97,442.66 C228.91,442.60 229.64,442.12 230.48,441.66 C231.32,441.20 232.42,440.46 232.99,439.90 C233.56,439.34 233.35,438.81 233.92,438.27 C234.49,437.72 235.59,437.06 236.43,436.64 C237.27,436.22 238.10,435.95 238.94,435.76 C239.77,435.57 240.61,435.40 241.45,435.51 C242.28,435.61 243.23,435.93 243.96,436.39 C244.69,436.85 245.21,437.43 245.84,438.27 C246.47,439.10 247.09,440.30 247.72,441.41 C248.35,442.51 248.87,443.56 249.60,444.92 C250.34,446.28 251.28,448.16 252.11,449.56 C252.95,450.96 253.71,451.99 254.62,453.32 C255.53,454.66 256.66,456.48 257.57,457.57 C258.47,458.65 259.24,459.20 260.08,459.82 C260.91,460.45 261.75,460.97 262.58,461.33 C263.42,461.69 264.26,461.87 265.09,461.96 C265.93,462.04 266.77,461.98 267.60,461.83 C268.44,461.69 269.28,461.41 270.11,461.08 C270.95,460.74 271.79,460.24 272.62,459.82 C273.46,459.41 274.30,458.99 275.13,458.57 C275.97,458.15 276.80,457.73 277.64,457.31 C278.48,456.90 279.31,456.39 280.15,456.06 C280.99,455.73 281.82,455.47 282.66,455.31 C283.50,455.14 284.33,455.06 285.17,455.06 C286.01,455.06 286.84,455.14 287.68,455.31 C288.52,455.47 289.35,455.73 290.19,456.06 C291.02,456.39 291.86,456.92 292.70,457.31 C293.53,457.71 294.24,458.19 295.21,458.44 C296.18,458.70 297.54,458.59 298.51,458.82 C299.48,459.05 300.18,459.66 301.02,459.82 C301.86,459.99 302.69,459.89 303.53,459.82 C304.36,459.76 305.20,459.55 306.04,459.45 C306.87,459.34 307.50,459.26 308.55,459.20 C309.59,459.13 311.06,459.07 312.31,459.07 C313.57,459.07 314.82,459.13 316.08,459.20 C317.33,459.26 318.58,459.34 319.84,459.45 C321.09,459.55 322.35,459.72 323.60,459.82 C324.86,459.93 326.11,459.97 327.37,460.08 C328.62,460.18 329.88,460.28 331.13,460.45 C332.39,460.62 333.64,460.79 334.90,461.08 C336.15,461.37 337.51,461.85 338.66,462.21 C339.81,462.56 340.75,462.98 341.80,463.21 C342.84,463.44 344.21,463.55 344.93,463.59 C345.65,463.63 345.50,463.50 346.11,463.46 C346.73,463.42 347.79,463.40 348.62,463.34 C349.46,463.27 350.30,463.19 351.13,463.09 C351.97,462.98 352.80,462.81 353.64,462.71 C354.48,462.61 355.31,462.52 356.15,462.46 C356.99,462.40 357.82,462.38 358.66,462.33 C359.50,462.29 360.33,462.31 361.17,462.21 C362.01,462.10 362.84,461.89 363.68,461.71 C364.52,461.52 365.35,461.29 366.19,461.08 C367.02,460.87 368.03,460.62 368.70,460.45 C369.37,460.28 369.95,460.14 370.20,460.08" stroke="#26a0f2"/>
<path d="M171.13,457.09 C172.87,456.92 178.14,456.40 181.55,456.09 C184.96,455.77 189.60,456.19 191.58,455.21 C193.57,454.22 192.84,452.07 193.47,450.19 C194.09,448.31 194.72,445.90 195.35,443.91 C195.98,441.93 196.60,439.94 197.23,438.27 C197.86,436.60 198.38,435.24 199.11,433.88 C199.84,432.52 200.79,431.20 201.62,430.11 C202.46,429.03 203.30,428.08 204.13,427.35 C204.97,426.62 205.80,426.10 206.64,425.72 C207.48,425.35 208.31,425.14 209.15,425.09 C209.99,425.05 210.82,425.16 211.66,425.47 C212.50,425.78 213.33,426.37 214.17,426.98 C215.01,427.58 215.84,428.38 216.68,429.11 C217.52,429.84 218.35,430.57 219.19,431.37 C220.02,432.16 220.86,433.08 221.70,433.88 C222.53,434.67 223.37,435.55 224.21,436.14 C225.04,436.72 225.98,437.18 226.72,437.39 C227.45,437.60 227.97,437.66 228.60,437.39 C229.23,437.12 229.75,436.51 230.48,435.76 C231.21,435.01 232.21,434.13 232.99,432.87 C233.77,431.62 234.50,429.42 235.17,428.23 C235.85,427.04 236.43,426.45 237.06,425.72 C237.68,424.99 238.31,424.30 238.94,423.84 C239.57,423.38 240.19,423.07 240.82,422.96 C241.45,422.86 242.08,422.86 242.70,423.21 C243.33,423.57 244.02,424.15 244.58,425.09 C245.15,426.04 245.57,427.19 246.09,428.86 C246.61,430.53 247.18,433.04 247.72,435.13 C248.27,437.22 248.79,439.31 249.35,441.41 C249.92,443.50 250.48,445.59 251.11,447.68 C251.74,449.77 252.46,452.30 253.12,453.95 C253.77,455.60 254.42,456.34 255.06,457.57 C255.69,458.80 256.31,460.18 256.94,461.33 C257.57,462.48 258.19,463.57 258.82,464.47 C259.45,465.37 260.08,466.10 260.70,466.73 C261.33,467.35 261.96,467.92 262.58,468.23 C263.21,468.54 263.84,468.61 264.47,468.61 C265.09,468.61 265.72,468.50 266.35,468.23 C266.98,467.96 267.60,467.56 268.23,466.98 C268.86,466.39 269.49,465.55 270.11,464.72 C270.74,463.88 271.37,462.84 271.99,461.96 C272.62,461.08 273.25,460.18 273.88,459.45 C274.50,458.72 275.13,458.19 275.76,457.57 C276.39,456.94 277.01,456.21 277.64,455.68 C278.27,455.16 278.90,454.81 279.52,454.43 C280.15,454.05 280.78,453.70 281.41,453.43 C282.03,453.15 282.66,452.94 283.29,452.80 C283.91,452.65 284.54,452.48 285.17,452.55 C285.80,452.61 286.42,452.86 287.05,453.17 C287.68,453.49 288.31,453.95 288.93,454.43 C289.56,454.91 290.19,455.47 290.82,456.06 C291.44,456.65 292.07,457.27 292.70,457.94 C293.32,458.61 293.95,459.47 294.58,460.08 C295.21,460.68 295.83,461.12 296.46,461.58 C297.09,462.04 297.72,462.52 298.34,462.84 C298.97,463.15 299.68,463.34 300.23,463.46 C300.78,463.59 301.10,463.67 301.65,463.59 C302.20,463.50 302.90,463.23 303.53,462.96 C304.16,462.69 304.78,462.33 305.41,461.96 C306.04,461.58 306.66,461.06 307.29,460.70 C307.92,460.35 308.55,460.03 309.17,459.82 C309.80,459.62 309.91,459.41 311.06,459.45 C312.21,459.49 314.40,459.87 316.08,460.08 C317.75,460.28 319.63,460.49 321.09,460.70 C322.56,460.91 323.60,461.12 324.86,461.33 C326.11,461.54 327.37,461.71 328.62,461.96 C329.88,462.21 331.13,462.48 332.39,462.84 C333.64,463.19 335.10,463.65 336.15,464.09 C337.20,464.53 337.82,465.03 338.66,465.47 C339.50,465.91 340.33,466.37 341.17,466.73 C342.01,467.08 342.95,467.42 343.68,467.60 C344.41,467.79 344.83,467.90 345.56,467.85 C346.29,467.81 347.23,467.56 348.07,467.35 C348.91,467.14 349.74,466.87 350.58,466.60 C351.42,466.33 352.37,466.01 353.09,465.72 C353.81,465.43 354.18,465.09 354.90,464.84 C355.62,464.59 356.57,464.34 357.41,464.22 C358.24,464.09 359.08,464.11 359.91,464.09 C360.75,464.07 361.59,464.13 362.42,464.09 C363.26,464.05 364.10,463.96 364.93,463.84 C365.77,463.71 366.56,463.55 367.44,463.34 C368.32,463.13 369.74,462.71 370.20,462.58" stroke="#f2a72e"/>
<path d="M171.13,457.09 C171.82,456.92 173.54,456.29 175.27,456.09 C177.01,455.88 179.46,455.88 181.55,455.83 C183.64,455.79 186.15,456.04 187.82,455.83 C189.49,455.63 190.71,455.52 191.58,454.58 C192.46,453.64 192.63,452.17 193.09,450.19 C193.55,448.20 193.93,445.38 194.35,442.66 C194.76,439.94 195.18,437.01 195.60,433.88 C196.02,430.74 196.44,426.98 196.85,423.84 C197.27,420.70 197.63,417.67 198.11,415.06 C198.59,412.44 199.15,409.72 199.74,408.16 C200.33,406.59 200.99,406.38 201.62,405.65 C202.25,404.91 202.67,404.92 203.50,403.76 C204.34,402.61 205.70,399.77 206.64,398.72 C207.58,397.67 208.31,397.59 209.15,397.47 C209.99,397.34 210.93,397.61 211.66,397.97 C212.39,398.32 212.96,398.74 213.54,399.60 C214.13,400.46 214.65,401.58 215.17,403.11 C215.70,404.64 216.01,407.00 216.68,408.78 C217.35,410.56 218.35,412.13 219.19,413.80 C220.02,415.47 220.86,417.25 221.70,418.82 C222.53,420.39 223.48,422.17 224.21,423.21 C224.94,424.26 225.46,424.68 226.09,425.09 C226.72,425.51 227.41,425.83 227.97,425.72 C228.54,425.62 228.95,425.41 229.48,424.47 C230.00,423.53 230.52,421.85 231.11,420.08 C231.69,418.30 232.31,415.89 232.99,413.80 C233.67,411.71 234.50,409.41 235.17,407.53 C235.85,405.65 236.64,403.93 237.06,402.51 C237.47,401.09 237.27,400.20 237.68,398.99 C238.10,397.78 238.94,396.23 239.57,395.23 C240.19,394.22 240.88,393.43 241.45,392.97 C242.01,392.51 242.47,392.30 242.95,392.47 C243.43,392.63 243.89,393.09 244.33,393.97 C244.77,394.85 245.23,395.48 245.59,397.74 C245.94,399.99 246.11,404.22 246.47,407.53 C246.82,410.83 247.30,414.22 247.72,417.57 C248.14,420.91 248.56,424.26 248.98,427.60 C249.39,430.95 249.81,434.50 250.23,437.64 C250.65,440.78 251.07,443.71 251.49,446.42 C251.90,449.14 252.19,451.68 252.74,453.95 C253.29,456.23 254.21,458.01 254.81,460.08 C255.40,462.14 255.75,464.36 256.31,466.35 C256.88,468.34 257.57,470.43 258.19,471.99 C258.82,473.56 259.45,474.71 260.08,475.76 C260.70,476.80 261.33,477.68 261.96,478.27 C262.58,478.85 263.21,479.10 263.84,479.27 C264.47,479.44 265.09,479.54 265.72,479.27 C266.35,479.00 266.98,478.54 267.60,477.64 C268.23,476.74 268.86,475.34 269.49,473.88 C270.11,472.41 270.74,470.53 271.37,468.86 C271.99,467.19 272.62,465.51 273.25,463.84 C273.88,462.17 274.50,460.28 275.13,458.82 C275.76,457.36 276.39,456.10 277.01,455.06 C277.64,454.01 278.27,453.28 278.90,452.55 C279.52,451.82 280.15,451.15 280.78,450.66 C281.41,450.18 282.10,449.83 282.66,449.66 C283.22,449.49 283.58,449.49 284.17,449.66 C284.75,449.83 285.48,450.18 286.17,450.66 C286.86,451.15 287.64,451.86 288.31,452.55 C288.98,453.24 289.56,453.97 290.19,454.81 C290.82,455.64 291.44,456.37 292.07,457.57 C292.70,458.76 293.32,460.49 293.95,461.96 C294.58,463.42 295.25,465.09 295.83,466.35 C296.42,467.60 296.90,468.65 297.47,469.49 C298.03,470.32 298.63,470.89 299.22,471.37 C299.81,471.85 300.41,472.48 301.02,472.37 C301.63,472.27 302.27,471.53 302.90,470.74 C303.53,469.95 304.16,468.75 304.78,467.60 C305.41,466.45 306.04,464.88 306.66,463.84 C307.29,462.79 307.92,462.06 308.55,461.33 C309.17,460.60 309.80,459.91 310.43,459.45 C311.06,458.99 311.58,458.67 312.31,458.57 C313.04,458.47 313.98,458.61 314.82,458.82 C315.66,459.03 316.60,459.51 317.33,459.82 C318.06,460.14 318.58,460.35 319.21,460.70 C319.84,461.06 320.47,461.43 321.09,461.96 C321.72,462.48 322.35,463.32 322.98,463.84 C323.60,464.36 324.13,464.74 324.86,465.09 C325.59,465.45 326.53,465.81 327.37,465.97 C328.20,466.14 329.04,465.97 329.88,466.10 C330.71,466.22 331.65,466.43 332.39,466.73 C333.12,467.02 333.64,467.39 334.27,467.85 C334.90,468.31 335.52,468.90 336.15,469.49 C336.78,470.07 337.41,470.68 338.03,471.37 C338.66,472.06 339.29,472.89 339.91,473.63 C340.54,474.36 341.17,475.13 341.80,475.76 C342.42,476.39 343.05,476.97 343.68,477.39 C344.31,477.81 344.93,478.12 345.56,478.27 C346.19,478.41 346.82,478.44 347.44,478.27 C348.07,478.10 348.70,477.79 349.32,477.26 C349.95,476.74 350.58,475.86 351.21,475.13 C351.83,474.40 352.46,473.54 353.09,472.87 C353.72,472.20 354.57,471.51 354.97,471.12 C355.38,470.72 355.12,470.76 355.52,470.49 C355.93,470.22 356.78,469.72 357.41,469.49 C358.03,469.26 358.66,469.21 359.29,469.11 C359.91,469.00 360.54,468.98 361.17,468.86 C361.80,468.73 362.42,468.57 363.05,468.36 C363.68,468.15 364.31,467.83 364.93,467.60 C365.56,467.37 366.19,467.19 366.82,466.98 C367.44,466.77 368.13,466.50 368.70,466.35 C369.26,466.20 369.95,466.14 370.20,466.10" stroke="#5fc81e"/>
<path d="M171.13,456.46 C171.61,456.25 172.91,455.50 174.02,455.21 C175.13,454.91 176.53,454.75 177.78,454.71 C179.04,454.66 180.29,454.98 181.55,454.96 C182.80,454.94 184.06,454.54 185.31,454.58 C186.57,454.62 188.03,455.31 189.08,455.21 C190.12,455.10 190.96,455.00 191.58,453.95 C192.21,452.91 192.46,451.44 192.84,448.93 C193.22,446.42 193.53,442.45 193.84,438.90 C194.16,435.34 194.43,431.37 194.72,427.60 C195.01,423.84 195.24,420.46 195.60,416.31 C195.96,412.17 196.58,406.04 196.85,402.74 C197.13,399.43 196.96,399.60 197.23,396.46 C197.50,393.32 198.07,387.57 198.49,383.91 C198.90,380.26 199.32,376.60 199.74,374.50 C200.16,372.41 200.47,372.41 200.99,371.37 C201.52,370.32 202.25,369.69 202.88,368.23 C203.50,366.77 204.13,364.26 204.76,362.58 C205.39,360.91 205.91,359.20 206.64,358.19 C207.37,357.19 208.31,356.67 209.15,356.56 C209.99,356.46 210.93,356.98 211.66,357.57 C212.39,358.15 212.96,358.82 213.54,360.08 C214.13,361.33 214.65,363.00 215.17,365.09 C215.70,367.19 216.11,370.11 216.68,372.62 C217.24,375.13 217.93,377.85 218.56,380.15 C219.19,382.45 219.82,384.33 220.44,386.42 C221.07,388.52 221.70,390.82 222.32,392.70 C222.95,394.58 223.58,396.36 224.21,397.72 C224.83,399.08 225.46,400.08 226.09,400.85 C226.72,401.63 227.40,402.46 227.97,402.36 C228.54,402.26 229.06,401.64 229.53,400.24 C230.00,398.85 230.36,396.27 230.78,393.97 C231.20,391.67 231.62,388.95 232.04,386.44 C232.46,383.93 232.87,381.42 233.29,378.91 C233.71,376.41 234.09,373.90 234.55,371.39 C235.01,368.88 235.53,366.26 236.05,363.86 C236.58,361.45 237.14,359.05 237.68,356.96 C238.23,354.87 238.79,352.88 239.31,351.31 C239.84,349.74 240.30,348.34 240.82,347.55 C241.34,346.75 241.93,346.44 242.45,346.54 C242.97,346.65 243.50,346.96 243.96,348.17 C244.42,349.39 244.86,351.62 245.21,353.82 C245.57,356.02 245.82,358.63 246.09,361.35 C246.36,364.07 246.59,366.99 246.84,370.13 C247.09,373.27 247.35,376.82 247.60,380.17 C247.85,383.52 248.12,387.07 248.35,390.21 C248.58,393.34 248.73,395.68 248.98,398.99 C249.23,402.30 249.54,406.31 249.85,410.04 C250.17,413.76 250.52,417.36 250.86,421.33 C251.19,425.30 251.53,429.69 251.86,433.88 C252.20,438.06 252.53,442.45 252.87,446.42 C253.20,450.40 253.50,454.40 253.87,457.72 C254.23,461.04 254.61,463.24 255.06,466.35 C255.51,469.46 256.04,473.46 256.56,476.39 C257.08,479.31 257.61,481.61 258.19,483.91 C258.78,486.21 259.45,488.52 260.08,490.19 C260.70,491.86 261.33,492.97 261.96,493.95 C262.58,494.94 263.32,495.63 263.84,496.09 C264.36,496.55 264.63,496.75 265.09,496.71 C265.55,496.67 266.08,496.61 266.60,495.83 C267.12,495.06 267.69,493.74 268.23,492.07 C268.77,490.40 269.34,488.10 269.86,485.80 C270.38,483.50 270.87,480.88 271.37,478.27 C271.87,475.65 272.35,472.73 272.87,470.11 C273.40,467.50 273.96,464.88 274.50,462.58 C275.05,460.28 275.61,458.09 276.14,456.31 C276.66,454.53 277.08,453.28 277.64,451.92 C278.21,450.56 278.90,449.26 279.52,448.16 C280.15,447.05 280.78,446.00 281.41,445.27 C282.03,444.54 282.70,444.02 283.29,443.76 C283.87,443.51 284.35,443.51 284.92,443.76 C285.48,444.02 286.11,444.64 286.68,445.27 C287.24,445.90 287.72,446.69 288.31,447.53 C288.89,448.36 289.62,449.45 290.19,450.29 C290.75,451.13 291.23,451.54 291.69,452.55 C292.15,453.55 292.53,454.74 292.95,456.31 C293.37,457.88 293.79,460.08 294.20,461.96 C294.62,463.84 295.04,465.83 295.46,467.60 C295.88,469.38 296.29,471.16 296.71,472.62 C297.13,474.09 297.49,475.24 297.97,476.39 C298.45,477.54 299.09,478.73 299.60,479.52 C300.11,480.32 300.47,481.26 301.02,481.15 C301.57,481.05 302.27,480.00 302.90,478.90 C303.53,477.79 304.16,475.97 304.78,474.50 C305.41,473.04 306.04,471.37 306.66,470.11 C307.29,468.86 307.92,467.81 308.55,466.98 C309.17,466.14 309.80,465.51 310.43,465.09 C311.06,464.68 311.68,464.47 312.31,464.47 C312.94,464.47 313.57,464.68 314.19,465.09 C314.82,465.51 315.45,466.45 316.08,466.98 C316.70,467.50 317.33,467.81 317.96,468.23 C318.58,468.65 319.21,468.96 319.84,469.49 C320.47,470.01 321.09,470.80 321.72,471.37 C322.35,471.93 322.87,472.52 323.60,472.87 C324.34,473.23 325.32,473.40 326.11,473.50 C326.91,473.61 327.64,473.65 328.37,473.50 C329.10,473.35 329.84,472.66 330.50,472.62 C331.17,472.58 331.76,472.87 332.39,473.25 C333.01,473.63 333.64,474.15 334.27,474.88 C334.90,475.61 335.52,476.55 336.15,477.64 C336.78,478.73 337.41,480.05 338.03,481.41 C338.66,482.76 339.29,484.54 339.91,485.80 C340.54,487.05 341.17,487.99 341.80,488.93 C342.42,489.87 343.05,490.82 343.68,491.44 C344.31,492.07 344.93,492.53 345.56,492.70 C346.19,492.86 346.82,492.76 347.44,492.45 C348.07,492.13 348.70,491.51 349.32,490.82 C349.95,490.13 350.58,489.25 351.21,488.31 C351.83,487.37 352.46,486.21 353.09,485.17 C353.72,484.12 354.34,482.91 354.97,482.03 C355.60,481.15 356.45,480.42 356.85,479.90 C357.26,479.38 357.00,479.21 357.41,478.90 C357.81,478.58 358.66,478.23 359.29,478.02 C359.91,477.81 360.54,477.85 361.17,477.64 C361.80,477.43 362.42,477.08 363.05,476.76 C363.68,476.45 364.31,476.20 364.93,475.76 C365.56,475.32 366.19,474.61 366.82,474.13 C367.44,473.65 368.13,473.23 368.70,472.87 C369.26,472.52 369.95,472.14 370.20,471.99" stroke="#ff1a1a"/>
</g>
<rect x="171.3" y="308.4" width="198.7" height="198.20000000000005" fill="none" stroke="#363636" stroke-width="1.15"/>
<path d="M193.40,509.90000000000003 V503.40000000000003 M193.40,305.09999999999997 V311.59999999999997" stroke="#2e2e2e" stroke-width="1.3" fill="none"/>
<path d="M237.30,509.90000000000003 V503.40000000000003 M237.30,305.09999999999997 V311.59999999999997" stroke="#2e2e2e" stroke-width="1.3" fill="none"/>
<path d="M281.40,509.90000000000003 V503.40000000000003 M281.40,305.09999999999997 V311.59999999999997" stroke="#2e2e2e" stroke-width="1.3" fill="none"/>
<path d="M325.65,509.90000000000003 V503.40000000000003 M325.65,305.09999999999997 V311.59999999999997" stroke="#2e2e2e" stroke-width="1.3" fill="none"/>
<path d="M370.00,509.90000000000003 V503.40000000000003 M370.00,305.09999999999997 V311.59999999999997" stroke="#2e2e2e" stroke-width="1.3" fill="none"/>
<path d="M168.10000000000002,308.40 H174.70000000000002 M373.2,308.40 H366.6" stroke="#2e2e2e" stroke-width="1.3" fill="none"/>
<path d="M168.10000000000002,357.95 H174.70000000000002 M373.2,357.95 H366.6" stroke="#2e2e2e" stroke-width="1.3" fill="none"/>
<path d="M168.10000000000002,407.50 H174.70000000000002 M373.2,407.50 H366.6" stroke="#2e2e2e" stroke-width="1.3" fill="none"/>
<path d="M168.10000000000002,457.05 H174.70000000000002 M373.2,457.05 H366.6" stroke="#2e2e2e" stroke-width="1.3" fill="none"/>
<path d="M168.10000000000002,506.60 H174.70000000000002 M373.2,506.60 H366.6" stroke="#2e2e2e" stroke-width="1.3" fill="none"/>
<text x="193.4" y="525.6" font-size="12.3" text-anchor="middle" font-family="'Liberation Sans', sans-serif" font-weight="bold" fill="#000" >0</text>
<text x="237.3" y="525.6" font-size="12.3" text-anchor="middle" font-family="'Liberation Sans', sans-serif" font-weight="bold" fill="#000" >10</text>
<text x="281.4" y="525.6" font-size="12.3" text-anchor="middle" font-family="'Liberation Sans', sans-serif" font-weight="bold" fill="#000" >20</text>
<text x="325.65" y="525.6" font-size="12.3" text-anchor="middle" font-family="'Liberation Sans', sans-serif" font-weight="bold" fill="#000" >30</text>
<text x="370.0" y="525.6" font-size="12.3" text-anchor="middle" font-family="'Liberation Sans', sans-serif" font-weight="bold" fill="#000" >40</text>
<text x="165.0" y="313.7" font-size="12.3" text-anchor="end" font-family="'Liberation Sans', sans-serif" font-weight="bold" fill="#000" >15</text>
<text x="165.0" y="363.25000000000006" font-size="12.3" text-anchor="end" font-family="'Liberation Sans', sans-serif" font-weight="bold" fill="#000" >10</text>
<text x="165.0" y="412.8" font-size="12.3" text-anchor="end" font-family="'Liberation Sans', sans-serif" font-weight="bold" fill="#000" >5</text>
<text x="165.0" y="462.35" font-size="12.3" text-anchor="end" font-family="'Liberation Sans', sans-serif" font-weight="bold" fill="#000" >0</text>
<text x="165.0" y="511.90000000000003" font-size="12.3" text-anchor="end" font-family="'Liberation Sans', sans-serif" font-weight="bold" fill="#000" >−<tspan dx="1.6">5</tspan></text>
<text x="270.5" y="541.8" font-size="13.7" text-anchor="middle" font-family="'Liberation Sans', sans-serif" font-weight="bold" fill="#000" >Time [ns]</text>
<text x="143.2" y="407.5" font-size="13.7" text-anchor="middle" font-family="'Liberation Sans', sans-serif" font-weight="bold" fill="#000" transform="rotate(-90 143.2 407.5)">Voltage [kV]</text>
<text x="280.1" y="324.2" font-size="12.3" text-anchor="middle" font-family="'Liberation Sans', sans-serif" font-weight="bold" fill="#000" >(c)</text>
</svg>
</body></html>
